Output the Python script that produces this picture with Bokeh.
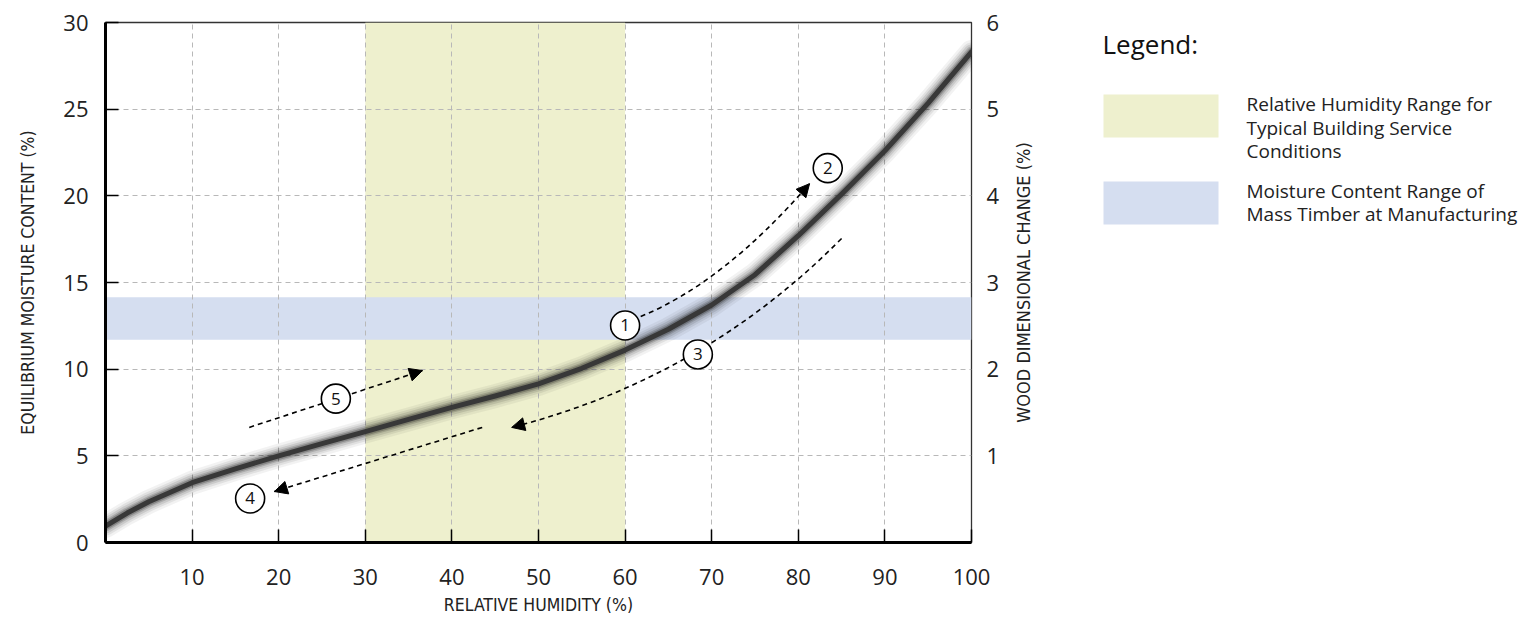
import math
from bokeh.plotting import figure
from bokeh.models import Range1d, LinearAxis, FixedTicker, Arrow, NormalHead
from bokeh.layouts import row
from bokeh.core.properties import value
from bokeh.embed import file_html
from bokeh.resources import INLINE

# ---- data ----
rh = [0, 2.5, 5, 10, 15, 20, 25, 30, 35, 40, 45, 50, 55, 60, 65, 70, 75, 80, 85, 90, 95, 100]
emc = [0.95, 1.7, 2.35, 3.45, 4.25, 5.0, 5.7, 6.4, 7.1, 7.8, 8.45, 9.15, 10.05, 11.1, 12.3,
       13.7, 15.45, 17.7, 20.1, 22.6, 25.35, 28.3]

rh_band = [30, 60]          # relative humidity range, typical building service
mc_band = [11.7, 14.15]     # moisture content range at manufacturing

x_ticks = [10, 20, 30, 40, 50, 60, 70, 80, 90, 100]
y_ticks = [0, 5, 10, 15, 20, 25, 30]
y2_ticks = [1, 2, 3, 4, 5, 6]

# curved arrows (quadratic): start, control, end
curve_x0 = [61.8, 85.0]
curve_y0 = [13.04, 17.54]
curve_cx = [71.4, 69.0]
curve_cy = [15.0, 9.46]
curve_x1 = [81.3, 46.9]
curve_y1 = [20.7, 6.64]

# straight arrows
line_x0 = [43.5, 16.6]
line_y0 = [6.64, 6.64]
line_x1 = [19.5, 36.6]
line_y1 = [2.94, 9.92]

# numbered markers
step_x = [60.0, 83.4, 68.4, 16.7, 26.6]
step_y = [12.52, 21.6, 10.85, 2.54, 8.3]
step_lbl = ["1", "2", "3", "4", "5"]

legend_title = "Legend:"
legend_lines_1 = ["Relative Humidity Range for", "Typical Building Service", "Conditions"]
legend_lines_2 = ["Moisture Content Range of", "Mass Timber at Manufacturing"]
right_title = "WOOD DIMENSIONAL CHANGE (%)"
green = "#EEF0CE"
blue = "#D5DEF0"

FONT = "Open Sans"
COND = "DejaVu Sans Condensed"
TXT = "#222222"

p = figure(width=1002, height=625, x_range=Range1d(0, 100), y_range=Range1d(0, 30),
           output_backend="svg", toolbar_location=None,
           min_border_left=105, min_border_right=30, min_border_top=22, min_border_bottom=83)
p.background_fill_color = "white"
p.border_fill_color = "white"
p.outline_line_color = "#333333"
p.outline_line_width = 1.3

# axes
xa = p.xaxis[0]
xa.ticker = FixedTicker(ticks=x_ticks)
xa.axis_line_width = 3
xa.axis_line_color = "black"
xa.major_tick_in = 13
xa.major_tick_out = 0
xa.major_tick_line_color = "black"
xa.major_tick_line_width = 1.5
xa.minor_tick_line_color = None
xa.major_label_standoff = 26
xa.major_label_text_font = FONT
xa.major_label_text_font_size = "22px"
xa.major_label_text_color = TXT
xa.axis_label = "RELATIVE HUMIDITY (%)"
xa.axis_label_text_font = COND
xa.axis_label_text_font_size = "17.5px"
xa.axis_label_text_font_style = "normal"
xa.axis_label_text_color = TXT
xa.axis_label_standoff = 7

ya = p.yaxis[0]
ya.ticker = FixedTicker(ticks=y_ticks)
ya.axis_line_width = 3
ya.axis_line_color = "black"
ya.major_tick_in = 13
ya.major_tick_out = 0
ya.major_tick_line_color = "black"
ya.major_tick_line_width = 1.5
ya.minor_tick_line_color = None
ya.major_label_standoff = 17
ya.major_label_text_font = FONT
ya.major_label_text_font_size = "22px"
ya.major_label_text_color = TXT
ya.axis_label = "EQUILIBRIUM MOISTURE CONTENT (%)"
ya.axis_label_text_font = COND
ya.axis_label_text_font_size = "17.5px"
ya.axis_label_text_font_style = "normal"
ya.axis_label_text_color = TXT
ya.axis_label_standoff = 22

p.extra_y_ranges = {"dim": Range1d(0, 6)}
ra = LinearAxis(y_range_name="dim", ticker=FixedTicker(ticks=y2_ticks))
ra.axis_line_color = None
ra.major_tick_line_color = None
ra.minor_tick_line_color = None
ra.major_label_standoff = 9
ra.major_label_text_font = FONT
ra.major_label_text_font_size = "22px"
ra.major_label_text_color = TXT
p.add_layout(ra, "right")

# grid
p.xgrid.ticker = FixedTicker(ticks=x_ticks[:-1])
p.ygrid.ticker = FixedTicker(ticks=y_ticks[1:-1])
for g in (p.xgrid[0], p.ygrid[0]):
    g.grid_line_color = "#b8b8b8"
    g.grid_line_dash = "5 4"
    g.grid_line_width = 1

# shaded bands
p.quad(left=[rh_band[0]], right=[rh_band[1]], bottom=[0], top=[30],
       fill_color=green, line_color=None, level="image")
p.quad(left=[0], right=[100], bottom=[mc_band[0]], top=[mc_band[1]],
       fill_color=blue, line_color=None, level="image")

# curve with soft shadow
for w, a in [(24, 0.05), (19, 0.07), (15, 0.10), (11, 0.15), (8, 0.22)]:
    p.line(rh, emc, line_color="black", line_width=w, line_alpha=a,
           line_cap="round", line_join="round")
p.line(rh, emc, line_color="#383838", line_width=5, line_cap="round", line_join="round")

# dashed arrows
p.quadratic(x0=curve_x0, y0=curve_y0, x1=curve_x1, y1=curve_y1, cx=curve_cx, cy=curve_cy,
            line_color="black", line_width=1.6, line_dash="5 4")
p.segment(x0=line_x0, y0=line_y0, x1=line_x1, y1=line_y1,
          line_color="black", line_width=1.6, line_dash="5 4")

heads_from_x = [curve_cx[0], curve_cx[1], line_x0[0], line_x0[1]]
heads_from_y = [curve_cy[0], curve_cy[1], line_y0[0], line_y0[1]]
heads_to_x = [curve_x1[0], curve_x1[1], line_x1[0], line_x1[1]]
heads_to_y = [curve_y1[0], curve_y1[1], line_y1[0], line_y1[1]]
for fx, fy, tx, ty in zip(heads_from_x, heads_from_y, heads_to_x, heads_to_y):
    sx = tx - 0.08 * (tx - fx)
    sy = ty - 0.08 * (ty - fy)
    p.add_layout(Arrow(end=NormalHead(size=13, fill_color="black", line_color="black", line_width=1),
                       x_start=sx, y_start=sy, x_end=tx, y_end=ty, line_alpha=0))

# numbered circles
p.scatter(step_x, step_y, marker="circle", size=29, fill_color="white",
          line_color="black", line_width=1.6)
p.text(step_x, step_y, text=step_lbl, text_align="center", text_baseline="middle",
       text_font=value(FONT), text_font_size="17px", text_color="#111111")

# ---- side panel: right-axis title and legend (data units == page pixels) ----
lg = figure(width=534, height=625, x_range=Range1d(1002, 1536), y_range=Range1d(542, 22),
            output_backend="svg", toolbar_location=None, x_axis_type=None, y_axis_type=None,
            min_border_left=0, min_border_right=0, min_border_top=22, min_border_bottom=83)
lg.outline_line_color = None
lg.grid.visible = False
lg.text(x=[1023], y=[282], text=[right_title], angle=math.pi / 2,
        text_align="center", text_baseline="middle",
        text_font=value(COND), text_font_size="18px", text_color=TXT)
lg.text(x=[1102], y=[43], text=[legend_title], text_baseline="middle",
        text_font=value(FONT), text_font_size="26px", text_color="#111111")
lg.quad(left=[1103, 1103], right=[1218, 1218], top=[94, 181], bottom=[137, 224],
        fill_color=[green, blue], line_color=None)
lg.text(x=[1246] * 3, y=[103.5, 127, 150.5], text=legend_lines_1, text_baseline="middle",
        text_font=value(FONT), text_font_size="19px", text_color=TXT)
lg.text(x=[1246] * 2, y=[190, 213.5], text=legend_lines_2, text_baseline="middle",
        text_font=value(FONT), text_font_size="19px", text_color=TXT)

layout = row(p, lg, spacing=0)
open("out.html", "w").write(file_html(layout, INLINE))
